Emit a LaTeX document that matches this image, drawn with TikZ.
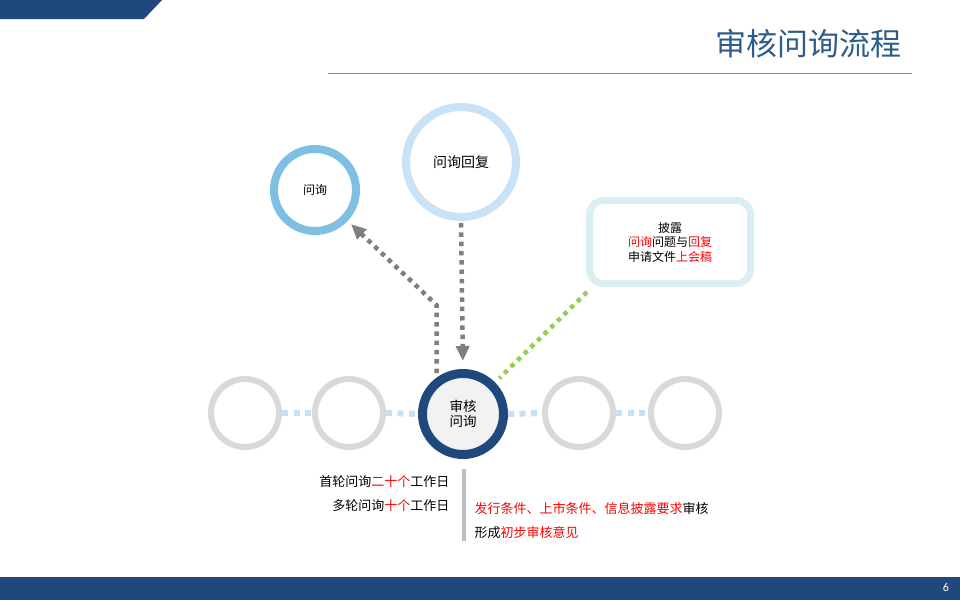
\documentclass[tikz,border=0pt]{standalone}
\usepackage{fontspec}
\newfontfamily\cjk{Noto Sans CJK SC}
\newfontfamily\numfont{Carlito}
\usetikzlibrary{arrows.meta,calc}
\definecolor{navy}{HTML}{1F497D}
\definecolor{titleblue}{HTML}{2E5C8A}
\definecolor{askblue}{HTML}{7FC0E2}
\definecolor{replyblue}{HTML}{C9E2F5}
\definecolor{ringgray}{HTML}{D9D9D9}
\definecolor{linkblue}{HTML}{C6E0F4}
\definecolor{arrowgray}{HTML}{7F7F7F}
\definecolor{boxcyan}{HTML}{DAEEF3}
\definecolor{leafgreen}{HTML}{92D050}
\definecolor{hl}{HTML}{FF0000}
\definecolor{bargray}{HTML}{BFBFBF}
\definecolor{maingray}{HTML}{F2F2F2}
\definecolor{rulegray}{HTML}{8C8C8C}
\begin{document}
\begin{tikzpicture}[x=1pt,y=-1pt,
  ring/.style={circle, inner sep=0pt, outer sep=0pt, draw, fill=white, font=\cjk, align=center},
  askring/.style={ring, minimum size=82pt, line width=8pt, draw=askblue, font=\cjk\fontsize{12}{14}\selectfont},
  replyring/.style={ring, minimum size=110pt, line width=8pt, draw=replyblue, font=\cjk\fontsize{14}{16}\selectfont},
  mainring/.style={ring, minimum size=81pt, line width=9pt, draw=navy, fill=maingray, font=\cjk\fontsize{13.5}{15}\selectfont},
  grayring/.style={ring, minimum size=68pt, line width=6pt, draw=ringgray},
  notebox/.style={draw=boxcyan, line width=7pt, rounded corners=14pt, fill=white, minimum width=161pt, minimum height=83pt, inner sep=0pt, outer sep=0pt, align=center, font=\cjk\fontsize{12}{14.5}\selectfont},
  graydots/.style={draw=arrowgray, line width=4.5pt, dash pattern=on 4.5pt off 4.8pt},
  linkdots/.style={draw=linkblue, line width=6pt, dash pattern=on 6pt off 5.5pt},
  greendots/.style={draw=leafgreen, line width=4.5pt, dash pattern=on 4.5pt off 4.8pt},
  bodytext/.style={inner sep=0pt, font=\cjk\fontsize{13}{15}\selectfont},
  tip/.style={-{Triangle[length=15pt,width=13pt]}}
]
\useasboundingbox (0,0) rectangle (960,600);

% header and footer
\fill[navy] (0,0) -- (162,0) -- (144,19) -- (0,19) -- cycle;
\node[inner sep=0pt, anchor=east, text=titleblue, font=\cjk\fontsize{31}{31}\selectfont] (title) at (902,44) {审核问询流程};
\coordinate (ruleL) at (328,73.5);
\coordinate (ruleR) at (912,73.5);
\draw[rulegray, line width=1pt] (ruleL) -- (ruleR);
\fill[navy] (0,577) rectangle (960,600);
\node[text=white, inner sep=0pt, font=\numfont\fontsize{12}{12}\selectfont] (page) at (946,587) {6};

% circles
\node[askring] (ask) at (315,190) {问询};
\node[replyring] (reply) at (461,162) {问询回复};
\node[grayring] (g1) at (245,413) {};
\node[grayring] (g2) at (349,413) {};
\node[mainring] (main) at (463,414) {审核\\问询};
\node[grayring] (g3) at (579,413) {};
\node[grayring] (g4) at (685,413) {};

% note box
\node[notebox] (note) at (670,242) {披露\\\textcolor{hl}{问询}问题与\textcolor{hl}{回复}\\申请文件\textcolor{hl}{上会稿}};

% timeline links
\draw[linkdots, shorten <=3pt, shorten >=3pt] (g1.east) -- (g2.west);
\draw[linkdots, shorten <=3pt, shorten >=4.5pt] (g2.east) -- (main.west);
\draw[linkdots, shorten <=4.5pt, shorten >=3pt] (main.east) -- (g3.west);
\draw[linkdots, shorten <=3pt, shorten >=3pt] (g3.east) -- (g4.west);

% arrows
\coordinate (lstart) at (436.5,373);
\coordinate (bend) at (436.5,305);
\draw[graydots, tip, shorten >=8.6pt] (lstart) -- (bend) -- (ask);
\draw[graydots, tip, shorten <=6pt, shorten >=12.5pt] (reply.south) -- (main.north);
\coordinate (gstart) at (587,292);
\draw[greendots, shorten >=10.5pt] (gstart) -- (main);

% texts under the timeline
\node[bodytext, anchor=east] (first) at (449.5,482) {首轮问询\textcolor{hl}{二十个}工作日};
\node[bodytext, anchor=east] (multi) at (449.5,506) {多轮问询\textcolor{hl}{十个}工作日};
\coordinate (barTop) at (463.7,469);
\coordinate (barBot) at (463.7,541);
\draw[bargray, line width=4pt] (barTop) -- (barBot);
\node[bodytext, anchor=west] (cond) at (474.5,509) {\textcolor{hl}{发行条件、上市条件、信息披露要求}审核};
\node[bodytext, anchor=west] (form) at (474.5,533) {形成\textcolor{hl}{初步审核意见}};
\end{tikzpicture}
\end{document}
